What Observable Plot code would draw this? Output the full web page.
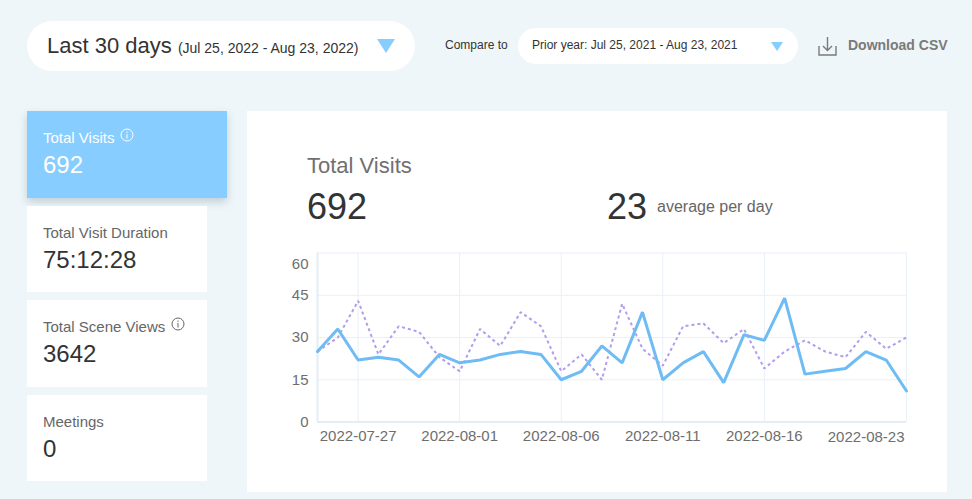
<!DOCTYPE html>
<html><head><meta charset="utf-8">
<script src="https://cdn.jsdelivr.net/npm/d3@7"></script>
<script src="https://cdn.jsdelivr.net/npm/@observablehq/plot@0.6"></script>
<style>
html,body{margin:0;padding:0}
body{width:972px;height:499px;background:#eef6f9;position:relative;overflow:hidden;font-family:"Liberation Sans",Arial,sans-serif;color:#333}
.a{position:absolute;white-space:nowrap}
.box{position:absolute;background:#fff}
.tri{position:absolute;width:0;height:0;border-left-style:solid;border-right-style:solid;border-top-style:solid;border-left-color:transparent;border-right-color:transparent;border-top-color:#87cdff}
#chart{position:absolute;left:270px;top:240px}
#chart svg{display:block;background:transparent}
</style></head><body>
<div class="box" style="left:27px;top:21px;width:388px;height:50px;border-radius:25px"></div>
<div class="a" style="left:47px;top:33px;font-size:22px;line-height:26px;color:#333">Last 30 days <span style="font-size:14px">(Jul 25, 2022 - Aug 23, 2022)</span></div>
<div class="tri" style="left:377px;top:39px;border-left-width:9px;border-right-width:9px;border-top-width:14px"></div>
<div class="a" style="left:445px;top:38px;font-size:12px;line-height:15px;color:#333">Compare to</div>
<div class="box" style="left:518px;top:28px;width:280px;height:36px;border-radius:18px"></div>
<div class="a" style="left:532px;top:38px;font-size:12px;line-height:15px;color:#333">Prior year: Jul 25, 2021 - Aug 23, 2021</div>
<div class="tri" style="left:771px;top:42px;border-left-width:6px;border-right-width:6px;border-top-width:9px"></div>
<svg class="a" style="left:818px;top:36px" width="20" height="20" viewBox="0 0 20 20" fill="none" stroke="#7a7a7a" stroke-width="1.4"><path d="M1 10V19H18V10M9.5 1V14M5 10L9.5 14.5L14 10"/></svg>
<div class="a" style="left:848px;top:37px;font-size:14px;line-height:16px;font-weight:bold;color:#7a7a7a">Download CSV</div>

<div class="box" style="left:27px;top:111px;width:200px;height:87px;background:#87cdff;box-shadow:0 4px 8px rgba(90,120,140,.3)"></div>
<div class="a" style="left:43px;top:129px;font-size:15px;line-height:17px;color:#fff">Total Visits</div>
<svg class="a" style="left:120px;top:128px" width="14" height="14" viewBox="0 0 14 14" fill="none" stroke="#fff" stroke-width="1"><circle cx="7" cy="7" r="6"/><path d="M7 6V10.5M7 3.5V4.8"/></svg>
<div class="a" style="left:43px;top:151px;font-size:24px;line-height:28px;color:#fff">692</div>

<div class="box" style="left:27px;top:206px;width:180px;height:86px"></div>
<div class="a" style="left:43px;top:224px;font-size:15px;line-height:17px;color:#666">Total Visit Duration</div>
<div class="a" style="left:43px;top:246px;font-size:24px;line-height:28px;color:#333">75:12:28</div>

<div class="box" style="left:27px;top:300px;width:180px;height:87px"></div>
<div class="a" style="left:43px;top:318px;font-size:15px;line-height:17px;color:#666">Total Scene Views</div>
<svg class="a" style="left:171px;top:317px" width="14" height="14" viewBox="0 0 14 14" fill="none" stroke="#666" stroke-width="1"><circle cx="7" cy="7" r="6"/><path d="M7 6V10.5M7 3.5V4.8"/></svg>
<div class="a" style="left:43px;top:340px;font-size:24px;line-height:28px;color:#333">3642</div>

<div class="box" style="left:27px;top:395px;width:180px;height:86px"></div>
<div class="a" style="left:43px;top:413px;font-size:15px;line-height:17px;color:#666">Meetings</div>
<div class="a" style="left:43px;top:435px;font-size:24px;line-height:28px;color:#333">0</div>

<div class="box" style="left:247px;top:111px;width:700px;height:381px"></div>
<div class="a" style="left:307px;top:153px;font-size:22px;line-height:25px;color:#707070">Total Visits</div>
<div class="a" style="left:307px;top:186px;font-size:36px;line-height:42px;color:#333">692</div>
<div class="a" style="left:607px;top:186px;font-size:36px;line-height:42px;color:#333">23</div>
<div class="a" style="left:657px;top:198px;font-size:16px;line-height:18px;color:#666">average per day</div>
<div id="chart"></div>
<script>
const days = ["2022-07-25","2022-07-26","2022-07-27","2022-07-28","2022-07-29","2022-07-30","2022-07-31","2022-08-01","2022-08-02","2022-08-03","2022-08-04","2022-08-05","2022-08-06","2022-08-07","2022-08-08","2022-08-09","2022-08-10","2022-08-11","2022-08-12","2022-08-13","2022-08-14","2022-08-15","2022-08-16","2022-08-17","2022-08-18","2022-08-19","2022-08-20","2022-08-21","2022-08-22","2022-08-23"];
const currentVisits = [25,33,22,23,22,16,24,21,22,24,25,24,15,18,27,21,39,15,21,25,14,31,29,44,17,18,19,25,22,11];
const priorVisits = [25,30,43,24,34,32,23,18,33,27,39,34,18,24,15,42,26,20,34,35,28,33,19,25,29,25,23,32,26,30];
const xTickLabels = ["2022-07-27","2022-08-01","2022-08-06","2022-08-11","2022-08-16"];
const xLastLabel = "2022-08-23";
const yTicks = [0,15,30,45];
const yTop = 60;

const d = s => new Date(s + "T00:00:00Z");
const current = days.map((s,i)=>({date:d(s),v:currentVisits[i]}));
const prior = days.map((s,i)=>({date:d(s),v:priorVisits[i]}));
const xTicks = xTickLabels.map(d);
const gridColor = "#e8f0f8";
const textColor = "#6e6e6e";
const fmt = t => t.toISOString().slice(0,10);

const chart = Plot.plot({
  width:650, height:210,
  marginLeft:47, marginRight:14, marginTop:12.5, marginBottom:28.5,
  style:{fontFamily:'"Liberation Sans",Arial,sans-serif',fontSize:"15px",background:"transparent",overflow:"visible"},
  x:{type:"utc",domain:[d(days[0]),d(days[days.length-1])]},
  y:{domain:[0,yTop]},
  marks:[
    Plot.ruleX(xTicks,{stroke:gridColor,strokeWidth:1}),
    Plot.ruleX([d(xLastLabel)],{stroke:gridColor,strokeWidth:1}),
    Plot.ruleY([...yTicks,yTop],{stroke:gridColor,strokeWidth:1}),
    Plot.ruleX([d(days[0])],{stroke:"#e3edf7",strokeWidth:2}),
    Plot.ruleY([0],{stroke:"#e3edf7",strokeWidth:2}),
    Plot.axisX({ticks:xTicks,tickSize:0,tickPadding:8,tickFormat:fmt,color:textColor,label:null,fontSize:15}),
    Plot.text([xLastLabel],{x:s=>d(s),frameAnchor:"bottom",dy:19.5,textAnchor:"end",dx:-2,fill:textColor,fontSize:15}),
    Plot.axisY({ticks:yTicks,tickSize:0,tickPadding:9,color:textColor,label:null,fontSize:15}),
    Plot.text([yTop],{y:v=>v,frameAnchor:"left",dx:-9,dy:11,textAnchor:"end",fill:textColor,fontSize:15}),
    Plot.line(prior,{x:"date",y:"v",stroke:"#b19cf0",strokeWidth:2,strokeDasharray:"3 3",strokeLinejoin:"miter",strokeLinecap:"butt"}),
    Plot.line(current,{x:"date",y:"v",stroke:"#6fbcf5",strokeWidth:3,strokeLinejoin:"miter"})
  ]
});
document.getElementById("chart").appendChild(chart);
</script>
</body></html>
